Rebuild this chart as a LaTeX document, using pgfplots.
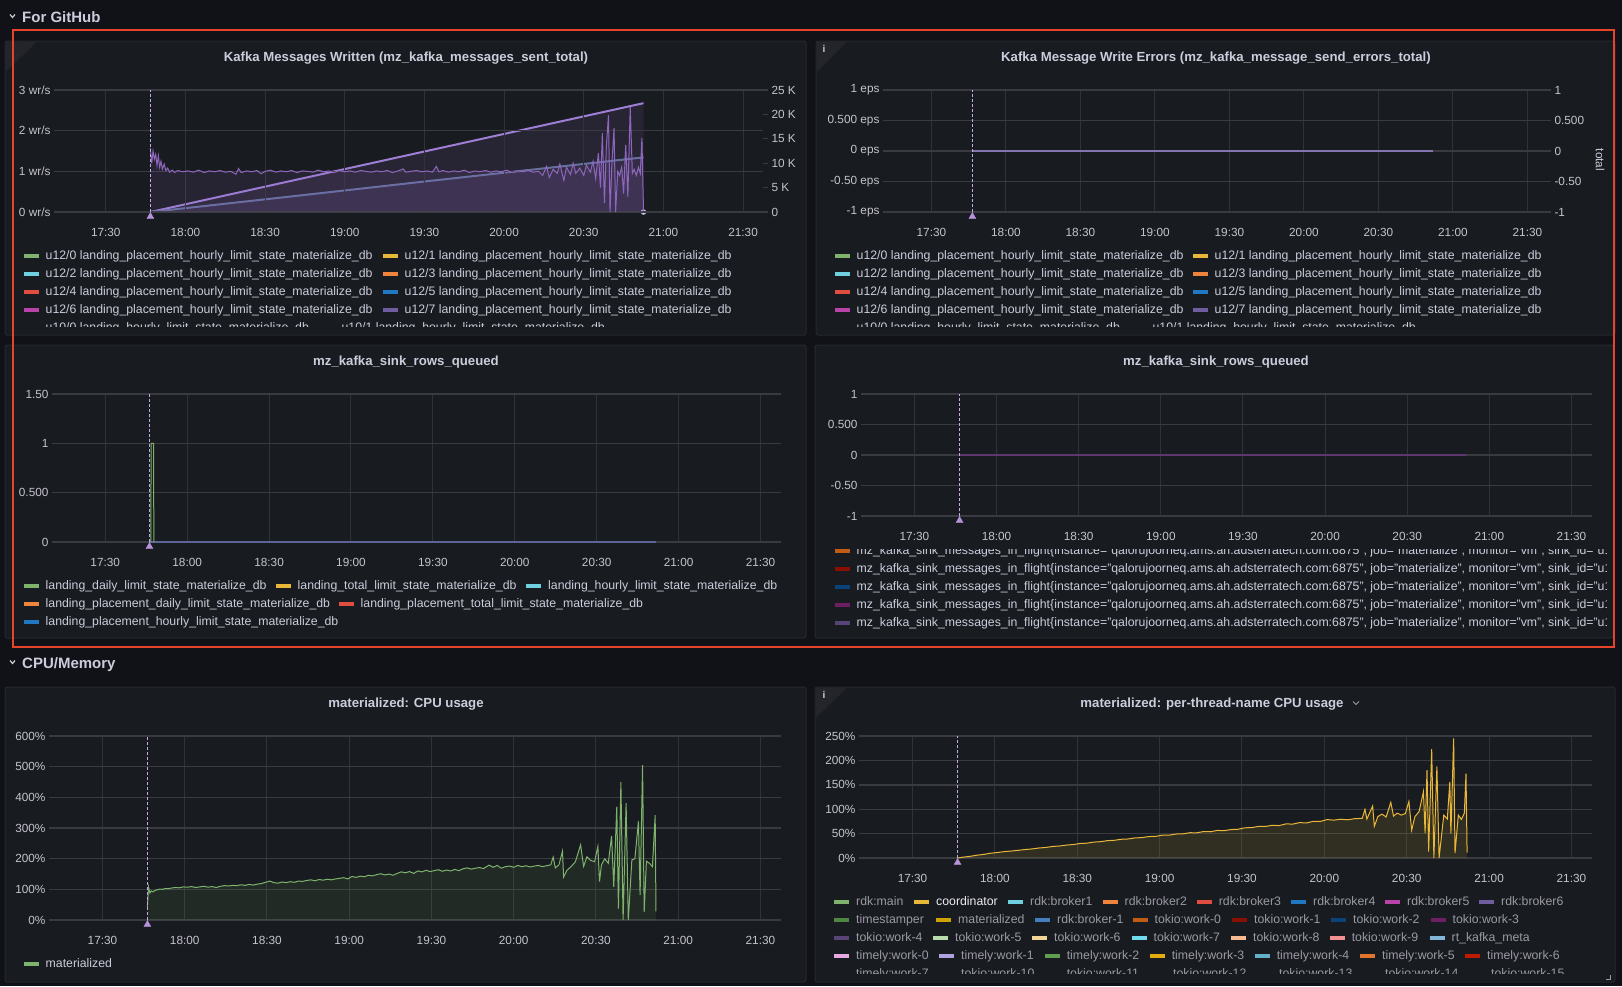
\documentclass[border=0pt]{standalone}
\usepackage{pgfplots}
\pgfplotsset{compat=1.18}
\usepackage{fontspec}
\setmainfont{Liberation Sans}
\definecolor{bg}{HTML}{111217}
\definecolor{panel}{HTML}{181B1F}
\definecolor{pborder}{HTML}{26282D}
\definecolor{corner}{HTML}{23252B}
\definecolor{txt}{HTML}{CCCCDC}
\definecolor{tick}{HTML}{C4C4CE}
\definecolor{muted}{HTML}{9A9AA4}
\definecolor{bright}{HTML}{ECECF2}
\definecolor{gridv}{HTML}{303237}
\definecolor{gridh}{HTML}{3A3B41}
\definecolor{redbox}{HTML}{E8432B}
\definecolor{annot}{HTML}{C8A8E8}
\definecolor{annotm}{HTML}{B592DA}
\definecolor{kp}{HTML}{8E66BE}
\definecolor{ktop}{HTML}{9F7FD6}
\definecolor{klow}{HTML}{66709F}
\definecolor{kzero}{HTML}{C9C2E6}
\definecolor{c0}{HTML}{7EB26D}
\definecolor{c1}{HTML}{EAB839}
\definecolor{c2}{HTML}{6ED0E0}
\definecolor{c3}{HTML}{EF843C}
\definecolor{c4}{HTML}{E24D42}
\definecolor{c5}{HTML}{1F78C1}
\definecolor{c6}{HTML}{BA43A9}
\definecolor{c7}{HTML}{705DA0}
\definecolor{c8}{HTML}{508642}
\definecolor{c9}{HTML}{CCA300}
\definecolor{c10}{HTML}{447EBC}
\definecolor{c11}{HTML}{C15C17}
\definecolor{c12}{HTML}{890F02}
\definecolor{c13}{HTML}{0A437C}
\definecolor{c14}{HTML}{6D1F62}
\definecolor{c15}{HTML}{584477}
\definecolor{c16}{HTML}{B7DBAB}
\definecolor{c17}{HTML}{F4D598}
\definecolor{c18}{HTML}{70DBED}
\definecolor{c19}{HTML}{F9BA8F}
\definecolor{c20}{HTML}{F29191}
\definecolor{c21}{HTML}{82B5D8}
\definecolor{c22}{HTML}{E5A8E2}
\definecolor{c23}{HTML}{AEA2E0}
\definecolor{c24}{HTML}{629E51}
\definecolor{c25}{HTML}{E5AC0E}
\definecolor{c26}{HTML}{64B0C8}
\definecolor{c27}{HTML}{E0752D}
\definecolor{c28}{HTML}{BF1B00}

\newcommand\lfont{\fontsize{12.3}{14}\selectfont}
\newcommand\tfont{\fontsize{13.2}{15}\selectfont\bfseries}
\newcommand\tkfont{\fontsize{11.8}{13}\selectfont}
\def\ltc{txt}
\newcommand\li[4]{%
  \fill[#3] ({#1-22},{#2-2}) rectangle ({#1-7},{#2+2});
  \node[anchor=base west, inner sep=0pt, text=\ltc, font=\lfont] at (#1,{#2+3.8}) {#4};}
\newcommand\lt[3]{%
  \node[anchor=base west, inner sep=0pt, text=\ltc, font=\lfont] at (#1,{#2+3.8}) {#3};}
\newcommand\ptitle[3]{\node[anchor=base, inner sep=0pt, text=txt, font=\tfont] at (#1,{#2+4.7}) {#3};}
\tikzset{P/.style={x=1pt,y=-1pt}}

\pgfplotsset{
  gbase/.style={
    scale only axis, anchor=south west,
    xmin=10.5, xmax=277.5,
    axis line style={draw=none},
    major tick length=0pt,
    tick style={draw=none},
    xtick={30,60,90,120,150,180,210,240,270},
    xticklabels={17:30,18:00,18:30,19:00,19:30,20:00,20:30,21:00,21:30},
    xmajorgrids, ymajorgrids,
    major x grid style={draw=gridv, line width=1pt},
    major y grid style={draw=gridh, line width=1.4pt},
    tick label style={font=\tkfont, text=tick},
    xticklabel style={yshift=-13pt},
    scaled y ticks=false,
    clip=false,
  },
  rbase/.style={
    scale only axis, anchor=south west,
    xmin=10.5, xmax=277.5,
    axis line style={draw=none},
    xtick=\empty,
    yticklabel pos=right, ytick pos=right, ytick align=outside,
    major tick length=5pt,
    ytick style={draw=gridh, line width=1.3pt},
    tick label style={font=\tkfont, text=tick},
    scaled y ticks=false,
    clip=false,
  },
}

\begin{document}
\begin{tikzpicture}
\path[use as bounding box] (0pt,0pt) rectangle (1622pt,-986pt);
\begin{scope}[P]
\fill[bg] (0,0) rectangle (1622,986);
% headers
\draw[txt, line width=1.2pt] (10,14.5) -- (12.5,17.5) -- (15,14.5);
\node[anchor=base west, inner sep=0pt, text=txt, font=\fontsize{15}{17}\selectfont\bfseries] at (22,22.4) {For GitHub};
\draw[txt, line width=1.2pt] (10,660.5) -- (12.5,663.5) -- (15,660.5);
\node[anchor=base west, inner sep=0pt, text=txt, font=\fontsize{15}{17}\selectfont\bfseries] at (22,668.4) {CPU/Memory};
% panels
\foreach \a/\b/\c/\d in {5/41/806/335, 816/41/1615/335, 5/345/806/638, 815/345/1613/638, 5/687/806/982, 815/687/1615/982}
  \fill[panel, draw=pborder, line width=1pt, rounded corners=2pt] (\a,\b) rectangle (\c,\d);
\fill[corner] (5.5,41.5) -- (37,41.5) -- (5.5,72) -- cycle;
\fill[corner] (816.5,41.5) -- (847,41.5) -- (816.5,72) -- cycle;
\fill[corner] (815.5,687.5) -- (847,687.5) -- (815.5,718) -- cycle;
\node[text=txt, font=\fontsize{10}{10}\selectfont\bfseries, inner sep=0pt] at (824,49) {i};
\node[text=txt, font=\fontsize{10}{10}\selectfont\bfseries, inner sep=0pt] at (824,695) {i};
% titles
\ptitle{406}{57}{Kafka Messages Written (mz\_kafka\_messages\_sent\_total)}
\ptitle{1216}{57}{Kafka Message Write Errors (mz\_kafka\_message\_send\_errors\_total)}
\ptitle{406}{361}{mz\_kafka\_sink\_rows\_queued}
\ptitle{1216}{361}{mz\_kafka\_sink\_rows\_queued}
\ptitle{406}{703}{materialized: CPU usage}
\ptitle{1212}{703}{materialized: per-thread-name CPU usage}
\draw[muted, line width=0.9pt] (1353,701.5) -- (1356,704.5) -- (1359,701.5);
\node[text=txt, font=\tkfont, rotate=-90, inner sep=0pt] at (1600,160) {total};
% legend P1
\begin{scope}
\clip (5,240) rectangle (806,326.7);
\li{45.5}{256}{c0}{u12/0 landing\_placement\_hourly\_limit\_state\_materialize\_db}
\li{404.5}{256}{c1}{u12/1 landing\_placement\_hourly\_limit\_state\_materialize\_db}
\li{45.5}{274}{c2}{u12/2 landing\_placement\_hourly\_limit\_state\_materialize\_db}
\li{404.5}{274}{c3}{u12/3 landing\_placement\_hourly\_limit\_state\_materialize\_db}
\li{45.5}{292}{c4}{u12/4 landing\_placement\_hourly\_limit\_state\_materialize\_db}
\li{404.5}{292}{c5}{u12/5 landing\_placement\_hourly\_limit\_state\_materialize\_db}
\li{45.5}{310}{c6}{u12/6 landing\_placement\_hourly\_limit\_state\_materialize\_db}
\li{404.5}{310}{c7}{u12/7 landing\_placement\_hourly\_limit\_state\_materialize\_db}
\lt{45.5}{328}{u10/0 landing\_hourly\_limit\_state\_materialize\_db}
\lt{341.4}{328}{u10/1 landing\_hourly\_limit\_state\_materialize\_db}
\end{scope}
% legend P2
\begin{scope}
\clip (816,240) rectangle (1615,326.7);
\li{856.5}{256}{c0}{u12/0 landing\_placement\_hourly\_limit\_state\_materialize\_db}
\li{1214.5}{256}{c1}{u12/1 landing\_placement\_hourly\_limit\_state\_materialize\_db}
\li{856.5}{274}{c2}{u12/2 landing\_placement\_hourly\_limit\_state\_materialize\_db}
\li{1214.5}{274}{c3}{u12/3 landing\_placement\_hourly\_limit\_state\_materialize\_db}
\li{856.5}{292}{c4}{u12/4 landing\_placement\_hourly\_limit\_state\_materialize\_db}
\li{1214.5}{292}{c5}{u12/5 landing\_placement\_hourly\_limit\_state\_materialize\_db}
\li{856.5}{310}{c6}{u12/6 landing\_placement\_hourly\_limit\_state\_materialize\_db}
\li{1214.5}{310}{c7}{u12/7 landing\_placement\_hourly\_limit\_state\_materialize\_db}
\lt{856.5}{328}{u10/0 landing\_hourly\_limit\_state\_materialize\_db}
\lt{1152.4}{328}{u10/1 landing\_hourly\_limit\_state\_materialize\_db}
\end{scope}
% legend P3
\li{45.5}{586}{c0}{landing\_daily\_limit\_state\_materialize\_db}
\li{297.5}{586}{c1}{landing\_total\_limit\_state\_materialize\_db}
\li{548}{586}{c2}{landing\_hourly\_limit\_state\_materialize\_db}
\li{45.5}{604}{c3}{landing\_placement\_daily\_limit\_state\_materialize\_db}
\li{360.5}{604}{c4}{landing\_placement\_total\_limit\_state\_materialize\_db}
\li{45.5}{622}{c5}{landing\_placement\_hourly\_limit\_state\_materialize\_db}
% legend P4
\begin{scope}
\clip (815,549.5) rectangle (1606,637);
\def\mzt{mz\_kafka\_sink\_messages\_in\_flight\{instance="qalorujoorneq.ams.ah.adsterratech.com:6875", job="materialize", monitor="vm", sink\_id="u1}
\li{856.5}{551}{c11}{\mzt}
\li{856.5}{569}{c12}{\mzt}
\li{856.5}{587}{c13}{\mzt}
\li{856.5}{605}{c14}{\mzt}
\li{856.5}{623}{c15}{\mzt}
\end{scope}
% legend P5
\li{45.5}{964}{c0}{materialized}
% legend P6
\begin{scope}
\clip (815,890) rectangle (1615,973.3);
\def\ltc{muted}
\li{856}{902}{c0}{rdk:main}
{\def\ltc{bright}\li{936}{902}{c1}{coordinator}}
\li{1030}{902}{c2}{rdk:broker1}
\li{1124.5}{902}{c3}{rdk:broker2}
\li{1218.6}{902}{c4}{rdk:broker3}
\li{1313}{902}{c5}{rdk:broker4}
\li{1407}{902}{c6}{rdk:broker5}
\li{1501}{902}{c7}{rdk:broker6}
\li{856}{920}{c8}{timestamper}
\li{958}{920}{c9}{materialized}
\li{1057}{920}{c10}{rdk:broker-1}
\li{1154.5}{920}{c11}{tokio:work-0}
\li{1254}{920}{c12}{tokio:work-1}
\li{1353}{920}{c13}{tokio:work-2}
\li{1452.5}{920}{c14}{tokio:work-3}
\li{856}{938}{c15}{tokio:work-4}
\li{955}{938}{c16}{tokio:work-5}
\li{1054}{938}{c17}{tokio:work-6}
\li{1153.5}{938}{c18}{tokio:work-7}
\li{1253}{938}{c19}{tokio:work-8}
\li{1351.6}{938}{c20}{tokio:work-9}
\li{1451.5}{938}{c21}{rt\_kafka\_meta}
\li{856}{956}{c22}{timely:work-0}
\li{961}{956}{c23}{timely:work-1}
\li{1066.6}{956}{c24}{timely:work-2}
\li{1171.6}{956}{c25}{timely:work-3}
\li{1276.6}{956}{c26}{timely:work-4}
\li{1382}{956}{c27}{timely:work-5}
\li{1487}{956}{c28}{timely:work-6}
\lt{856}{974}{timely:work-7}
\lt{961}{974}{tokio:work-10}
\lt{1066.6}{974}{tokio:work-11}
\lt{1173}{974}{tokio:work-12}
\lt{1279}{974}{tokio:work-13}
\lt{1385}{974}{tokio:work-14}
\lt{1491}{974}{tokio:work-15}
\end{scope}
\draw[muted, line width=0.8pt] (1606,979) -- (1610,979) -- (1610,975);
\end{scope}

% ===== P1 right axis (totals) =====
\begin{axis}[rbase, at={(54pt,-212pt)}, width=709pt, height=122pt,
  ymin=0, ymax=25000, ytick={0,5000,10000,15000,20000,25000},
  yticklabels={0,5 K,10 K,15 K,20 K,25 K}]
\addplot[draw=none, fill=kp, fill opacity=0.13] coordinates {(46.8,0) (100,6400) (150,12400) (200,18400) (232.5,22300)} \closedcycle;
\addplot[draw=none, fill=kp, fill opacity=0.13] coordinates {(46.8,0) (100,3200) (150,6250) (200,9250) (232.5,11200)} \closedcycle;
\addplot[ktop, line width=2pt] coordinates {(46.8,0) (100,6400) (150,12400) (200,18400) (232.5,22300)};
\addplot[klow, line width=2pt] coordinates {(46.8,0) (100,3200) (150,6250) (200,9250) (232.5,11200)};
\addplot[kzero, line width=2.2pt] coordinates {(46.8,0) (232.5,0)};
\addplot[only marks, mark=*, mark size=2.5pt, kzero] coordinates {(232.5,0)};
\end{axis}
% ===== P1 left axis (rate) =====
\pgfplotstableread{
x y
46.8 1.57
47.3 1.2
47.8 1.5
48.3 1.3
48.8 1.42
49.3 1.15
49.8 1.38
50.3 1.1
50.8 1.25
51.3 1.05
52 1.18
52.6 1.02
53.3 1.08
54 0.98
55 1.03
56 0.97
57 1.02
59 0.99
61 1.01
63 0.98
65 1.03
67 0.97
69 1.01
71 0.99
73 1.02
75 0.98
77 1.0
79 0.93
80 1.07
81 0.97
83 1.01
85 0.99
87 1.02
88.5 0.94
90 1.0
92 1.03
94 0.98
96 1.01
98 0.99
100 1.02
102 0.97
104 1.01
106 1.0
108 0.98
110 1.03
112 0.99
114 1.01
116 0.97
118 1.02
120 0.99
122 1.01
124 0.98
126 1.02
128 1.0
130 0.98
132 1.01
134 0.99
136 1.02
138 0.97
140 1.01
142 1.06
143 0.98
145 1.0
147 1.02
149 0.99
151 1.01
153 0.98
154.5 1.12
155.5 0.99
157 1.02
159 0.98
161 1.01
163 0.99
165 1.03
167 0.97
169 1.01
171 0.99
173 1.02
175 0.98
177 1.01
179 0.99
181 1.03
183 0.97
185 1.01
187 0.99
189 1.02
191 0.98
193 1.0
194.5 0.9
196 1.12
197 0.85
198.5 1.05
200 0.95
201 1.18
202.5 0.78
203.5 1.1
205 0.92
206 1.2
207 0.95
208.5 1.08
210 0.9
211 1.15
212.5 0.98
213.5 1.25
214.5 0.82
215.5 1.45
216.3 0.6
217 1.94
217.8 0.22
218.5 1.6
219.3 2.38
219.9 0.0
220.6 1.2
221.4 2.06
222 0.0
222.8 1.0
223.5 0.9
224.3 1.1
225 0.45
225.8 1.65
226.6 0.37
227.5 2.58
228.3 0.95
229 1.05
229.8 0.9
230.6 1.1
231.3 0.95
231.9 1.82
232.5 0.02
}\ratedata
\begin{axis}[gbase, at={(54pt,-212pt)}, width=709pt, height=122pt,
  ymin=0, ymax=3, ytick={0,1,2,3}, yticklabels={0 wr/s,1 wr/s,2 wr/s,3 wr/s}]
\addplot[draw=none, fill=kp, fill opacity=0.12] table[x=x,y=y] {\ratedata} \closedcycle;
\addplot[kp, line width=1pt] table[x=x,y=y] {\ratedata};
\draw[annot, dash pattern=on 3pt off 2pt, line width=0.8pt] (axis cs:46.8,0) -- (axis cs:46.8,3);
\addplot[only marks, mark=triangle*, mark size=4pt, annotm, mark options={yshift=-4.5pt}] coordinates {(46.8,0)};
\end{axis}

% ===== P2 =====
\begin{axis}[rbase, at={(883pt,-212pt)}, width=663pt, height=122pt,
  ymin=-1, ymax=1, ytick={-1,-0.5,0,0.5,1},
  yticklabels={-1,-0.50,0,0.500,1}]
\end{axis}
\begin{axis}[gbase, at={(883pt,-212pt)}, width=663pt, height=122pt,
  ymin=-1, ymax=1, ytick={-1,-0.5,0,0.5,1},
  yticklabels={-1 eps,-0.50 eps,0 eps,0.500 eps,1 eps}]
\addplot[draw=c7!85!white, line width=2pt] coordinates {(46.5,0) (120,0) (200,0) (232,0)};
\draw[annot, dash pattern=on 3pt off 2pt, line width=0.8pt] (axis cs:46.5,-1) -- (axis cs:46.5,1);
\addplot[only marks, mark=triangle*, mark size=4pt, annotm, mark options={yshift=-4.5pt}] coordinates {(46.5,-1)};
\end{axis}

% ===== P3 =====
\begin{axis}[gbase, at={(52pt,-542pt)}, width=729pt, height=148pt,
  ymin=0, ymax=1.5, ytick={0,0.5,1,1.5}, yticklabels={0,0.500,1,1.50}]
\addplot[draw={rgb,255:red,92;green,100;blue,150}, line width=2pt] coordinates {(46.2,0) (120,0) (200,0) (231.7,0)};
\addplot[c0, line width=1pt] coordinates {(46.7,0) (46.8,1) (47.7,1) (47.8,0)};
\draw[annot, dash pattern=on 3pt off 2pt, line width=0.8pt] (axis cs:46.2,0) -- (axis cs:46.2,1.5);
\addplot[only marks, mark=triangle*, mark size=4pt, annotm, mark options={yshift=-4.5pt}] coordinates {(46.2,0)};
\end{axis}

% ===== P4 =====
\begin{axis}[gbase, at={(861pt,-516pt)}, width=731pt, height=122pt,
  ymin=-1, ymax=1, ytick={-1,-0.5,0,0.5,1}, yticklabels={-1,-0.50,0,0.500,1}]
\addplot[draw=c15!65!c14, line width=1.8pt] coordinates {(46.5,0) (120,0) (200,0) (231.5,0)};
\draw[annot, dash pattern=on 3pt off 2pt, line width=0.8pt] (axis cs:46.5,-1) -- (axis cs:46.5,1);
\addplot[only marks, mark=triangle*, mark size=4pt, annotm, mark options={yshift=-4.5pt}] coordinates {(46.5,-1)};
\end{axis}

% ===== P5 =====
\pgfplotstableread{
x y
46.4 43
46.8 108
47.3 88
47.8 95
48.5 92
49.3 97
50.2 99
51 101
52 100
53 103
54 102
55 104
56.5 106
58 105
59.5 108
61 107
62.5 109
64 106
65.5 108
67 110
68.5 107
70 109
71.5 106
73 110
74.5 112
76 111
77.5 113
79 112
80.5 115
82 113
83.5 116
85 114
86.5 117
88 119
89.5 123
91 127
92.5 122
94 120
95.5 124
97 122
98.5 125
100 123
101.5 127
103 126
104.5 129
106 131
107.5 128
109 132
110.5 130
112 133
113.5 131
115 134
116.5 136
118 138
119.5 134
121 142
122.5 139
124 143
125.5 141
127 146
128.5 144
130 148
131.5 151
133 147
134.5 150
136 146
137.5 152
139 157
140.5 154
142 158
143.5 152
145 160
146.5 157
148 162
149.5 158
151 161
152.5 164
154 159
155.5 163
157 160
158.5 165
160 161
161.5 167
163 170
164.5 166
166 169
167.5 171
169 168
170.5 176
171 179
172.5 172
174 178
175.5 169
177 174
178.5 176
180 172
181.5 178
183 174
184.5 177
186 173
187.5 176
189 178
190.5 174
192 177
193.5 180
194.4 205
195.2 170
196.5 180
197.8 225
198.2 140
199.5 163
201 175
202.5 190
204.4 245
205.5 175
206.7 206
208 195
209.5 190
210.7 240
211.3 125
212 180
213.2 200
214.5 185
215.7 274
216.5 108
217.6 370
218.2 37
219.1 450
219.9 0
221.0 381
221.8 0
223.1 196
224.2 200
225.5 322
226.1 81
227.0 505
227.6 27
228.4 192
229.5 185
230.6 174
231.6 342
231.9 28
}\cpudata
\begin{axis}[gbase, at={(49pt,-920pt)}, width=732pt, height=184pt,
  ymin=0, ymax=600, ytick={0,100,200,300,400,500,600},
  yticklabels={0\%,100\%,200\%,300\%,400\%,500\%,600\%}]
\addplot[draw=none, fill=c0, fill opacity=0.1] table[x=x,y=y] {\cpudata} \closedcycle;
\addplot[c0, line width=1pt] table[x=x,y=y] {\cpudata};
\draw[annot, dash pattern=on 3pt off 2pt, line width=0.8pt] (axis cs:46.4,0) -- (axis cs:46.4,600);
\addplot[only marks, mark=triangle*, mark size=4pt, annotm, mark options={yshift=-4.5pt}] coordinates {(46.4,0)};
\end{axis}

% ===== P6 =====
\pgfplotstableread{
x y
46.4 0
48.5 1.8
51 3.5
53.5 5.8
56 7.4
58.5 9.9
61 11.3
63.5 13.2
66 14.3
68.5 15.8
71 17.4
73.5 18.6
76 20.5
78.5 21.6
81 23.7
83.5 24.6
86 26.5
88.5 27.6
91 29.8
93.5 30.4
96 32.6
98.5 33.5
101 35.6
103.5 36.3
106 38.4
108.5 39.0
111 41.2
113.5 41.8
116 44.0
118.5 44.3
121 46.9
123.5 46.8
126 49.2
128.5 49.6
131 51.8
133.5 51.7
136 54.2
138.5 53.8
141 56.5
143.5 56.1
146 58.3
148.5 58.9
151 61.9
153.5 62.3
156 64.7
158.5 64.6
161 67.0
163.5 66.5
166 69.9
168.5 69.5
171 72.6
173.5 71.8
176 75.2
178.5 74.9
181 78.8
183.5 77.6
186 79.5
188.5 78.3
191 80.6
193.8 81.3
194.8 99.7
195.5 80
197.6 106.5
198.2 65
199.5 85
201 90
202.5 84
204.2 114
205.2 86
206.5 92
208 88
209.5 91
210.8 116
211.8 57
213 85
214.5 95
216.1 136
216.7 51
217.4 180
218.0 13
219.1 223
219.9 0
221.0 188
221.8 0
223.5 88
224.8 80
225.7 156
226.1 50
227.1 245
227.6 10
228.8 88
229.9 79
231.0 92
231.6 173
232.0 11
}\thrdata
\begin{axis}[gbase, at={(859pt,-858pt)}, width=733pt, height=122pt,
  ymin=0, ymax=250, ytick={0,50,100,150,200,250},
  yticklabels={0\%,50\%,100\%,150\%,200\%,250\%}]
\addplot[draw=none, fill=c1, fill opacity=0.12] table[x=x,y=y] {\thrdata} \closedcycle;
\addplot[c1, line width=1pt] table[x=x,y=y] {\thrdata};
\draw[annot, dash pattern=on 3pt off 2pt, line width=0.8pt] (axis cs:46.4,0) -- (axis cs:46.4,250);
\addplot[only marks, mark=triangle*, mark size=4pt, annotm, mark options={yshift=-4.5pt}] coordinates {(46.4,0)};
\end{axis}

\begin{scope}[P]
\draw[redbox, line width=2.6pt] (13,30) rectangle (1614,647);
\end{scope}
\end{tikzpicture}
\end{document}
